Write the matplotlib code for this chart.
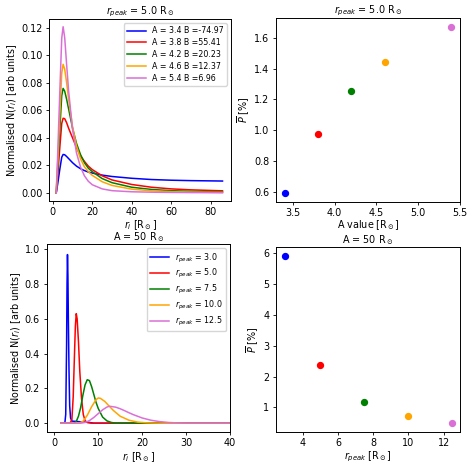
import matplotlib
matplotlib.use("Agg")
import matplotlib.pyplot as plt

colors = ['blue', 'red', 'green', 'orange', 'orchid']

# ---- Top-left: r_peak = 5.0, varying A ----
tl_labels = ['A = 3.4 B =-74.97', 'A = 3.8 B =55.41', 'A = 4.2 B =20.23',
             'A = 4.6 B =12.37', 'A = 5.4 B =6.96']
tl_x = [1.7, 2.5, 3.5, 4.5, 5.2, 6, 7, 8, 10, 12, 14, 16, 18, 20, 25, 30, 40, 50, 60, 70, 86]
tl_blue = [0, 0.007, 0.017, 0.026, 0.028, 0.0278, 0.0265, 0.025, 0.022, 0.0195, 0.0177,
           0.0163, 0.0152, 0.0145, 0.013, 0.012, 0.0107, 0.0098, 0.0093, 0.0090, 0.0087]
tl_red = [0, 0.0135, 0.0326, 0.0505, 0.0543, 0.054, 0.051, 0.047, 0.040, 0.033, 0.027,
          0.023, 0.0195, 0.017, 0.0125, 0.0095, 0.0062, 0.0042, 0.003, 0.0023, 0.0016]
tl_green = [0, 0.019, 0.0456, 0.0707, 0.076, 0.074, 0.068, 0.061, 0.047, 0.036, 0.028,
            0.022, 0.018, 0.0155, 0.0105, 0.0075, 0.0042, 0.0026, 0.0017, 0.0012, 0.0008]
tl_orange = [0, 0.0234, 0.0561, 0.087, 0.0935, 0.090, 0.080, 0.068, 0.048, 0.034, 0.025,
             0.019, 0.0155, 0.0128, 0.0082, 0.0055, 0.0028, 0.0016, 0.001, 0.0007, 0.0004]
tl_violet = [0, 0.030, 0.0725, 0.1124, 0.1208, 0.113, 0.093, 0.074, 0.046, 0.029, 0.019,
             0.0125, 0.0085, 0.006, 0.003, 0.0017, 0.0009, 0.0006, 0.0004, 0.0003, 0.0002]
tl_series = [tl_blue, tl_red, tl_green, tl_orange, tl_violet]

# ---- Top-right: mean P vs A ----
tr_A = [3.4, 3.8, 4.2, 4.6, 5.4]
tr_P = [0.5935, 0.977, 1.255, 1.44, 1.671]

# ---- Bottom-left: A = 50, varying r_peak ----
bl_labels = [r'$r_{peak}$ = 3.0', r'$r_{peak}$ = 5.0', r'$r_{peak}$ = 7.5',
             r'$r_{peak}$ = 10.0', r'$r_{peak}$ = 12.5']
bl_blue_x = [1.5, 2.4, 2.6, 2.8, 2.9, 3.0, 3.1, 3.2, 3.35, 3.5, 3.7, 4.0, 6.0, 8.0, 9.0, 45]
bl_blue_y = [0, 0, 0.05, 0.45, 0.8, 0.97, 0.85, 0.6, 0.3, 0.1, 0.03, 0.012, 0.008, 0.004, 0, 0]
bl_red_x = [1.5, 3.6, 4.0, 4.3, 4.6, 4.8, 5.0, 5.2, 5.5, 5.8, 6.2, 6.6, 7.0, 7.5, 8.5, 45]
bl_red_y = [0, 0, 0.02, 0.15, 0.40, 0.56, 0.63, 0.60, 0.47, 0.30, 0.14, 0.05, 0.015, 0.004, 0, 0]
bl_green_x = [1.5, 4.5, 5.0, 5.5, 6.0, 6.5, 7.0, 7.5, 8.0, 8.5, 9.0, 9.5, 10, 11, 12, 13, 14, 45]
bl_green_y = [0, 0, 0.01, 0.04, 0.09, 0.16, 0.22, 0.25, 0.245, 0.21, 0.165, 0.12, 0.085,
              0.035, 0.013, 0.004, 0, 0]
bl_orange_x = [1.5, 5.5, 6.5, 7.5, 8.5, 9.5, 10, 10.5, 11.5, 12.5, 13.5, 15, 17, 19, 21, 23, 25, 45]
bl_orange_y = [0, 0, 0.01, 0.045, 0.095, 0.135, 0.145, 0.143, 0.125, 0.098, 0.072, 0.040,
               0.017, 0.006, 0.002, 0.0005, 0, 0]
bl_violet_x = [1.5, 6, 7, 8, 9, 10, 11, 12, 12.5, 13, 14, 15, 16, 17, 18, 20, 22, 24, 26, 28, 30, 45]
bl_violet_y = [0, 0, 0.004, 0.015, 0.033, 0.055, 0.077, 0.093, 0.097, 0.096, 0.092, 0.083,
               0.072, 0.06, 0.049, 0.03, 0.017, 0.009, 0.004, 0.0015, 0, 0]
bl_series = [(bl_blue_x, bl_blue_y), (bl_red_x, bl_red_y), (bl_green_x, bl_green_y),
             (bl_orange_x, bl_orange_y), (bl_violet_x, bl_violet_y)]

# ---- Bottom-right: mean P vs r_peak ----
br_r = [3.0, 5.0, 7.5, 10.0, 12.5]
br_P = [5.91, 2.385, 1.173, 0.72, 0.49]

FS = 6.9
LFS = 5.7
plt.rcParams['font.size'] = FS
plt.rcParams['axes.linewidth'] = 0.7
plt.rcParams['xtick.major.size'] = 2.5
plt.rcParams['ytick.major.size'] = 2.5
plt.rcParams['xtick.major.width'] = 0.6
plt.rcParams['ytick.major.width'] = 0.6
plt.rcParams['xtick.major.pad'] = 2.0
plt.rcParams['ytick.major.pad'] = 2.4
plt.rcParams['axes.titlepad'] = 2.5
plt.rcParams['axes.labelpad'] = 1.5

W, H = 474, 467
fig = plt.figure(figsize=(W / 100, H / 100), dpi=100)

def box(l, t, r, b):
    return [l / W, (H - b) / H, (r - l) / W, (b - t) / H]

ax1 = fig.add_axes(box(49.3, 19.3, 231, 201))
ax2 = fig.add_axes(box(276.3, 18.3, 459.7, 201.7))
ax3 = fig.add_axes(box(46.7, 244.3, 230, 431.7))
ax4 = fig.add_axes(box(276.3, 247.3, 459.7, 431.7))

for ys, c, lab in zip(tl_series, colors, tl_labels):
    ax1.plot(tl_x, ys, color=c, lw=1.1, label=lab)
ax1.set_xlim(-1.8, 90.3)
ax1.set_ylim(-0.0058, 0.1262)
ax1.set_xticks([0, 20, 40, 60, 80])
ax1.set_yticks([0, 0.02, 0.04, 0.06, 0.08, 0.10, 0.12])
ax1.set_title(r'$r_{peak}$ = 5.0 R$_\odot$', fontsize=FS)
ax1.set_xlabel(r'$r_i$ [R$_\odot$]', labelpad=0.5)
ax1.set_ylabel(r'Normalised N($r_i$) [arb units]')
ax1.legend(loc='upper right', fontsize=LFS, handlelength=2.4, borderpad=0.4,
           labelspacing=0.35)

for c, a, p in zip(colors, tr_A, tr_P):
    ax2.scatter([a], [p], color=c, s=18, zorder=3)
ax2.set_xlim(3.3, 5.5)
ax2.set_ylim(0.539, 1.725)
ax2.set_xticks([3.5, 4.0, 4.5, 5.0, 5.5])
ax2.set_yticks([0.6, 0.8, 1.0, 1.2, 1.4, 1.6])
ax2.set_title(r'$r_{peak}$ = 5.0 R$_\odot$', fontsize=FS)
ax2.set_xlabel(r'A value [R$_\odot$]', labelpad=0.5)
ax2.set_ylabel(r'$\overline{P}$ [%]')

for (xs, ys), c, lab in zip(bl_series, colors, bl_labels):
    ax3.plot(xs, ys, color=c, lw=1.1, label=lab)
ax3.set_xlim(-1.73, 40)
ax3.set_ylim(-0.049, 1.029)
ax3.set_xticks([0, 10, 20, 30, 40])
ax3.set_yticks([0.0, 0.2, 0.4, 0.6, 0.8, 1.0])
ax3.set_title(r'A = 50 R$_\odot$', fontsize=FS, pad=1.0)
ax3.set_xlabel(r'$r_i$ [R$_\odot$]')
ax3.set_ylabel(r'Normalised N($r_i$) [arb units]')
ax3.legend(loc='upper right', fontsize=LFS, handlelength=2.4, borderpad=0.4,
           labelspacing=0.35)

for c, r, p in zip(colors, br_r, br_P):
    ax4.scatter([r], [p], color=c, s=18, zorder=3)
ax4.set_xlim(2.5, 12.92)
ax4.set_ylim(0.21, 6.19)
ax4.set_xticks([4, 6, 8, 10, 12])
ax4.set_yticks([1, 2, 3, 4, 5, 6])
ax4.set_title(r'A = 50 R$_\odot$', fontsize=FS, pad=1.5)
ax4.set_xlabel(r'$r_{peak}$ [R$_\odot$]')
ax4.set_ylabel(r'$\overline{P}$ [%]')

fig.savefig('out.png', dpi=100)
